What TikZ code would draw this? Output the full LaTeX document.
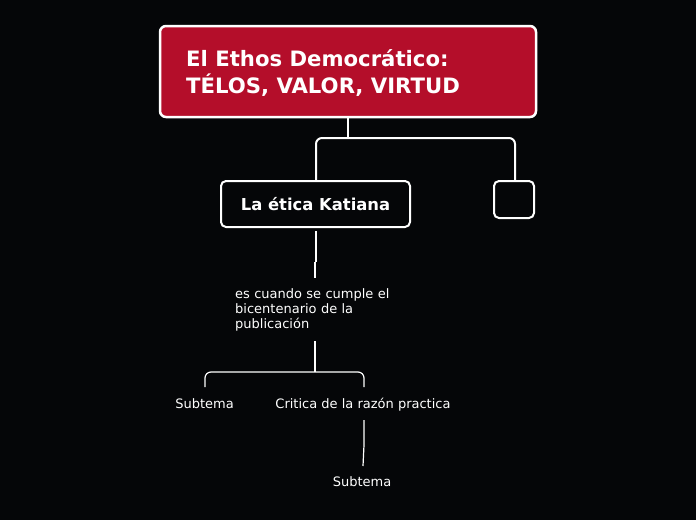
\documentclass[tikz,border=0pt]{standalone}
\usepackage{fontspec}
\setmainfont{DejaVu Sans}
\begin{document}
\begin{tikzpicture}[x=1pt,y=-1pt,
  rootbox/.style={draw=white,line width=2.5pt,rounded corners=6pt,fill=rootred,minimum width=376pt,minimum height=91pt,inner sep=0pt},
  topicbox/.style={draw=white,line width=2pt,rounded corners=5pt,fill=bgblack,inner sep=0pt},
  conn/.style={draw=white,line width=2pt,rounded corners=6pt},
  thin/.style={draw=white,line width=1.2pt},
  thinr/.style={draw=white,line width=1.2pt,rounded corners=6pt},
  plain/.style={text=white,font=\fontsize{13}{15.2}\selectfont,inner sep=0pt}
]
\definecolor{bgblack}{HTML}{050608}
\definecolor{rootred}{HTML}{B40E2A}
\fill[bgblack] (0,0) rectangle (696,520);
\useasboundingbox (0,0) rectangle (696,520);

\node[rootbox] (root) at (348,71.5) {};
\node[text=white,font=\bfseries\fontsize{21.2}{26.7}\selectfont,align=left,anchor=base west,inner sep=0pt] (roottext) at (186,93.3) {El Ethos Democrático:\\TÉLOS, VALOR, VIRTUD};

\node[topicbox,minimum width=189pt,minimum height=46pt] (etica) at (315.5,204) {};
\node[text=white,font=\bfseries\fontsize{16.4}{18}\selectfont,anchor=base,inner sep=0pt] (eticatext) at (315.5,210.7) {La ética Katiana};
\node[topicbox,minimum width=40pt,minimum height=37pt] (empty) at (514,199.5) {};

\coordinate (j1) at (348,138);
\draw[conn] (root.south) -- (j1);
\draw[conn] (etica.north -| 316,0) -- (316,138) -- (515,138) -- (empty.north -| 515,0);

\node[plain,align=left,anchor=base west,text width=180pt] (es) at (235,298) {es cuando se cumple el\\bicentenario de la\\publicación};
\coordinate (esTop) at (315,278);
\coordinate (esBot) at (315,341);
\draw[thin] (316,231) -- (316,262);
\draw[thin] (315,262) -- (esTop);

\node[plain,anchor=base] (sub1) at (204.5,408) {Subtema};
\node[plain,anchor=base] (crit) at (363,408) {Critica de la razón practica};
\node[plain,anchor=base] (sub2) at (362,486.7) {Subtema};

\draw[thin] (esBot) -- (315,372);
\draw[thinr] (205,387) -- (205,372) -- (364,372) -- (364,387);
\draw[thin] (364,420) -- (364,445) -- (363,466);
\end{tikzpicture}
\end{document}
